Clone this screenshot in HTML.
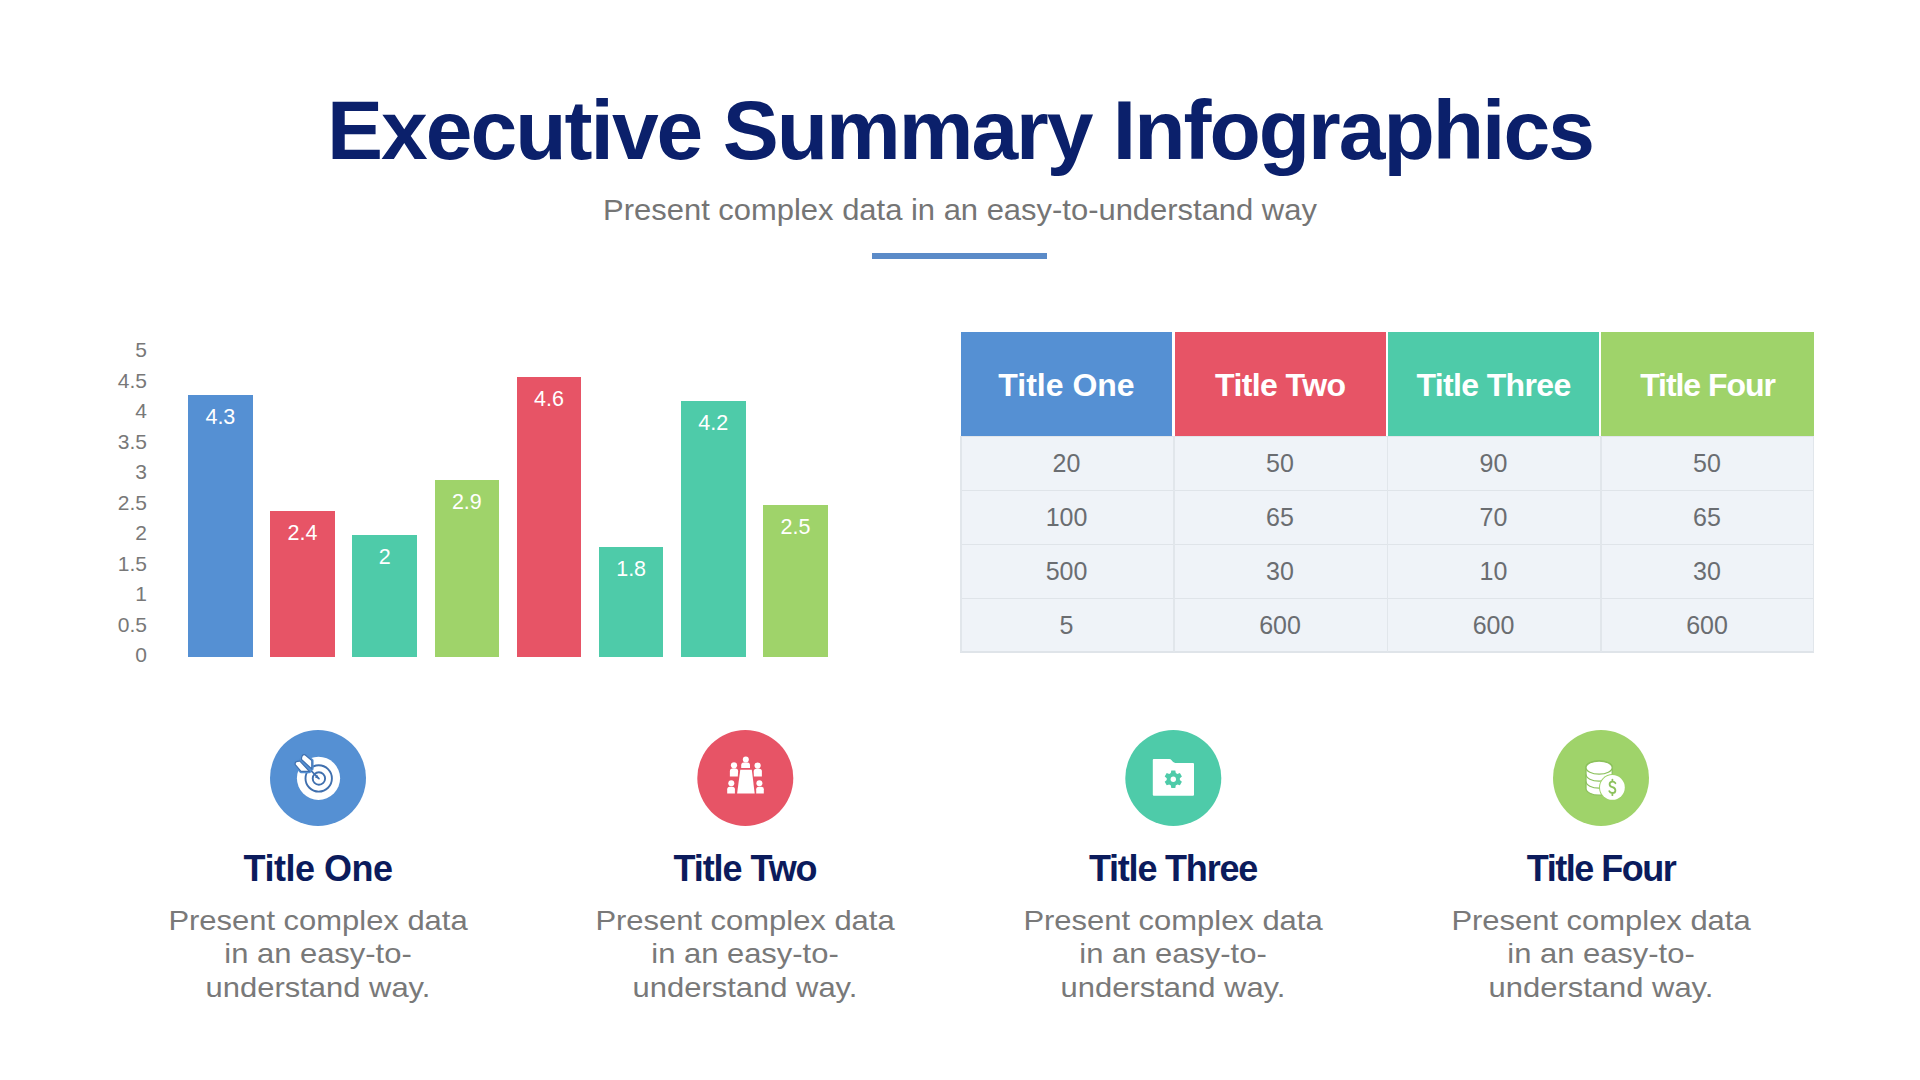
<!DOCTYPE html>
<html><head><meta charset="utf-8">
<style>
*{margin:0;padding:0;box-sizing:border-box}
html,body{width:1920px;height:1080px;background:#fff;overflow:hidden}
body{position:relative;font-family:"Liberation Sans",sans-serif}
.abs{position:absolute}
#title{left:0;width:1920px;top:82px;text-align:center;font-weight:bold;font-size:84px;letter-spacing:-2.0px;line-height:96px;color:#0b206b;white-space:nowrap}
#sub{left:0;width:1920px;top:193px;text-align:center;font-size:29px;transform:scaleX(1.067);transform-origin:50% 0;line-height:34px;color:#757575;white-space:nowrap}
#rule{left:872px;top:253px;width:175px;height:5.8px;background:#5b8bc8}
.yl{position:absolute;right:1773px;font-size:21px;line-height:21px;color:#787878;text-align:right;white-space:nowrap}
.bar{position:absolute;width:64.6px;bottom:423.3px}
.bl{position:absolute;left:0;width:100%;text-align:center;color:#fff;font-size:21.5px;line-height:22px;top:11.2px}
.blue{background:#5590d3}.red{background:#e75466}.teal{background:#4ecba9}.green{background:#9fd36a}
.th{position:absolute;top:332px;height:104px;padding-top:0.5px;color:#fff;font-size:32px;font-weight:bold;text-align:center;line-height:104px;white-space:nowrap}
#tbody{position:absolute;left:960px;top:436px;width:854px;height:216px;background:#eff3f8;border:1px solid #e1e5ea}
.hl{position:absolute;left:960px;width:854px;height:1.5px;background:#dfe4e9}
.vl{position:absolute;top:436px;width:1.5px;height:216px;background:#e1e6eb}
.td{position:absolute;width:213px;height:54px;line-height:54px;padding-top:0px;text-align:center;color:#6a6d71;font-size:25px}
.ct{position:absolute;width:428px;text-align:center;top:848.5px;font-size:36px;letter-spacing:-0.5px;font-weight:bold;color:#0b1b5c;line-height:40px}
.cb{position:absolute;width:428px;text-align:center;top:903.5px;font-size:28px;color:#797979;line-height:33.7px;transform:scaleX(1.105);transform-origin:50% 0}
</style></head>
<body>
<div id="title" class="abs">Executive Summary Infographics</div>
<div id="sub" class="abs">Present complex data in an easy-to-understand way</div>
<div id="rule" class="abs"></div>

<!-- y axis -->
<div class="yl" style="top:339.2px">5</div>
<div class="yl" style="top:369.7px">4.5</div>
<div class="yl" style="top:400.2px">4</div>
<div class="yl" style="top:430.7px">3.5</div>
<div class="yl" style="top:461.2px">3</div>
<div class="yl" style="top:491.7px">2.5</div>
<div class="yl" style="top:522.2px">2</div>
<div class="yl" style="top:552.7px">1.5</div>
<div class="yl" style="top:583.2px">1</div>
<div class="yl" style="top:613.7px">0.5</div>
<div class="yl" style="top:644.2px">0</div>

<div class="bar blue" style="left:188.10px;height:262px"><div class="bl">4.3</div></div>
<div class="bar red" style="left:270.25px;height:146px"><div class="bl">2.4</div></div>
<div class="bar teal" style="left:352.40px;height:122px"><div class="bl">2</div></div>
<div class="bar green" style="left:434.55px;height:177px"><div class="bl">2.9</div></div>
<div class="bar red" style="left:516.70px;height:280px"><div class="bl">4.6</div></div>
<div class="bar teal" style="left:598.85px;height:110px"><div class="bl">1.8</div></div>
<div class="bar teal" style="left:681.00px;height:256px"><div class="bl">4.2</div></div>
<div class="bar green" style="left:763.15px;height:152px"><div class="bl">2.5</div></div>

<!-- table -->
<div class="th blue" style="left:961px;width:211px">Title One</div>
<div class="th red" style="left:1174.5px;width:211.5px;letter-spacing:-0.6px">Title Two</div>
<div class="th teal" style="left:1388px;width:211px;letter-spacing:-0.65px">Title Three</div>
<div class="th green" style="left:1601px;width:213px;letter-spacing:-1.05px">Title Four</div>
<div id="tbody"></div>
<div class="hl" style="top:489.5px"></div>
<div class="hl" style="top:543.5px"></div>
<div class="hl" style="top:597.5px"></div>
<div class="hl" style="top:651px"></div>
<div class="vl" style="left:960px"></div>
<div class="vl" style="left:1173px"></div>
<div class="vl" style="left:1386.5px"></div>
<div class="vl" style="left:1600px"></div>
<div class="vl" style="left:1812.5px"></div>

<div class="td" style="left:960px;top:436px">20</div>
<div class="td" style="left:1173.5px;top:436px">50</div>
<div class="td" style="left:1387px;top:436px">90</div>
<div class="td" style="left:1600.5px;top:436px">50</div>
<div class="td" style="left:960px;top:490px">100</div>
<div class="td" style="left:1173.5px;top:490px">65</div>
<div class="td" style="left:1387px;top:490px">70</div>
<div class="td" style="left:1600.5px;top:490px">65</div>
<div class="td" style="left:960px;top:544px">500</div>
<div class="td" style="left:1173.5px;top:544px">30</div>
<div class="td" style="left:1387px;top:544px">10</div>
<div class="td" style="left:1600.5px;top:544px">30</div>
<div class="td" style="left:960px;top:598px">5</div>
<div class="td" style="left:1173.5px;top:598px">600</div>
<div class="td" style="left:1387px;top:598px">600</div>
<div class="td" style="left:1600.5px;top:598px">600</div>

<!-- icons -->
<svg class="abs" style="left:0;top:0" width="1920" height="1080" viewBox="0 0 1920 1080">
  <!-- icon 1: target -->
  <circle cx="318" cy="778" r="48" fill="#5590d3"/>
  <circle cx="318.5" cy="778.3" r="21.6" fill="#fff"/>
  <circle cx="318.7" cy="778.4" r="13.2" fill="none" stroke="#3f6fae" stroke-width="1.9"/>
  <circle cx="318.9" cy="778.5" r="6.2" fill="none" stroke="#3f6fae" stroke-width="1.9"/>
  <line x1="300" y1="759.6" x2="319" y2="778.6" stroke="#3f6fae" stroke-width="1.6" stroke-linecap="round"/>
  <path d="M302.2,755.8 Q303.2,754.4 305,754.8 L311.8,760.6 L311.8,769 L301.5,759.5 Q301.4,757 302.2,755.8 Z M296.2,761.8 Q294.8,762.8 295.2,764.6 L301,771.4 L309.4,771.4 L299.9,761.1 Q297.4,761 296.2,761.8 Z" fill="#5590d3" stroke="#5590d3" stroke-width="3.6" stroke-linejoin="round"/>
  <path d="M302.2,755.8 Q303.2,754.4 305,754.8 L311.8,760.6 L311.8,769 L301.5,759.5 Q301.4,757 302.2,755.8 Z" fill="#fff" stroke="#3f6fae" stroke-width="1.2" stroke-linejoin="round"/>
  <path d="M296.2,761.8 Q294.8,762.8 295.2,764.6 L301,771.4 L309.4,771.4 L299.9,761.1 Q297.4,761 296.2,761.8 Z" fill="#fff" stroke="#3f6fae" stroke-width="1.2" stroke-linejoin="round"/>
  <path d="M319.3,779.3 L314.8,777.2 L317.2,774.8 Z" fill="#3f6fae"/>

  <!-- icon 2: meeting -->
  <circle cx="745.3" cy="778" r="48" fill="#e75466"/>
  <g fill="#fff">
    <path d="M740.3,769.8 L751.8,769.8 L754.7,793.6 L737.1,793.6 Z"/>
    <circle cx="745.8" cy="759.5" r="3"/>
    <path d="M741.2,767.9 L741.2,765.4 Q741.2,762.6 744,762.6 L747.2,762.6 Q750,762.6 750,765.4 L750,767.9 Z"/>
    <circle cx="734" cy="765.3" r="3.1"/>
    <path d="M729.9,776.6 L729.9,771.2 Q729.9,768.6 732.5,768.6 L735.5,768.6 Q738.1,768.6 738.1,771.2 L737.8,776.6 Z"/>
    <circle cx="757.6" cy="765.6" r="3.1"/>
    <path d="M753.9,776.6 L753.7,771.4 Q753.7,768.8 756.3,768.8 L759.3,768.8 Q761.9,768.8 761.9,771.4 L761.9,776.6 Z"/>
    <circle cx="731.3" cy="783.2" r="3"/>
    <path d="M727.2,793.6 L727.2,789.3 Q727.2,786.7 729.8,786.7 L732.3,786.7 Q734.9,786.7 734.9,789.3 L734.9,793.6 Z"/>
    <circle cx="759.4" cy="783.2" r="3"/>
    <path d="M756.2,793.6 L756.2,789.3 Q756.2,786.7 758.8,786.7 L761.2,786.7 Q763.8,786.7 763.8,789.3 L763.8,793.6 Z"/>
  </g>

  <!-- icon 3: folder gear -->
  <circle cx="1173.3" cy="778" r="48" fill="#4ecba9"/>
  <path d="M1152.8,760 Q1152.8,759 1153.8,759 L1169.4,759 Q1170.6,759 1171.6,760.2 L1172.9,761.8 Q1173.9,762.9 1175.4,762.9 L1193,762.9 Q1194,762.9 1194,763.9 L1194,794.8 Q1194,795.8 1193,795.8 L1153.8,795.8 Q1152.8,795.8 1152.8,794.8 Z" fill="#fff"/>
  <path fill="#4ecba9" d="M1175.80,773.09 L1175.30,770.43 L1171.30,770.43 L1170.80,773.09 A6.6,6.6 0 0 0 1169.26,773.98 L1166.70,773.08 L1164.70,776.54 L1166.76,778.31 A6.6,6.6 0 0 0 1166.76,780.09 L1164.70,781.86 L1166.70,785.32 L1169.26,784.42 A6.6,6.6 0 0 0 1170.80,785.31 L1171.30,787.97 L1175.30,787.97 L1175.80,785.31 A6.6,6.6 0 0 0 1177.34,784.42 L1179.90,785.32 L1181.90,781.86 L1179.84,780.09 A6.6,6.6 0 0 0 1179.84,778.31 L1181.90,776.54 L1179.90,773.08 L1177.34,773.98 A6.6,6.6 0 0 0 1175.80,773.09 Z"/>
  <circle cx="1173.3" cy="779.2" r="2.7" fill="#fff"/>

  <!-- icon 4: coins -->
  <circle cx="1601" cy="778" r="48" fill="#9fd36a"/>
  <path d="M1586,767.6 L1586,788.6 A13.1,6.6 0 0 0 1612.2,788.6 L1612.2,767.6 A13.1,6.6 0 0 0 1586,767.6 Z" fill="#fff" stroke="#8cc15c" stroke-width="1.3"/>
  <path d="M1586,774.6 A13.1,6.6 0 0 0 1612.2,774.6 M1586,781.6 A13.1,6.6 0 0 0 1612.2,781.6" fill="none" stroke="#8cc15c" stroke-width="1.3"/>
  <ellipse cx="1599.1" cy="767.6" rx="13.1" ry="6.6" fill="#fff" stroke="#8cc15c" stroke-width="1.3"/>
  <circle cx="1612.4" cy="787.4" r="13.4" fill="#9fd36a"/>
  <circle cx="1612.4" cy="787.4" r="12.4" fill="#fff"/>
  <path d="M1615.4,783.2 Q1614.6,781.6 1612.4,781.6 Q1609.6,781.6 1609.6,784.2 Q1609.6,786.4 1612.4,787.2 Q1615.4,788 1615.4,790.4 Q1615.4,793 1612.4,793 Q1610,793 1609.3,791.2 M1612.4,779.6 L1612.4,781.6 M1612.4,793 L1612.4,795.2" fill="none" stroke="#8cc15c" stroke-width="1.8" stroke-linecap="round"/>
</svg>

<div class="ct" style="left:104px">Title One</div>
<div class="ct" style="left:531px;letter-spacing:-1.06px">Title Two</div>
<div class="ct" style="left:959px;letter-spacing:-1.2px">Title Three</div>
<div class="ct" style="left:1387px;letter-spacing:-1.5px">Title Four</div>
<div class="cb" style="left:104px">Present complex data<br>in an easy-to-<br>understand way.</div>
<div class="cb" style="left:531px">Present complex data<br>in an easy-to-<br>understand way.</div>
<div class="cb" style="left:959px">Present complex data<br>in an easy-to-<br>understand way.</div>
<div class="cb" style="left:1387px">Present complex data<br>in an easy-to-<br>understand way.</div>
</body></html>
